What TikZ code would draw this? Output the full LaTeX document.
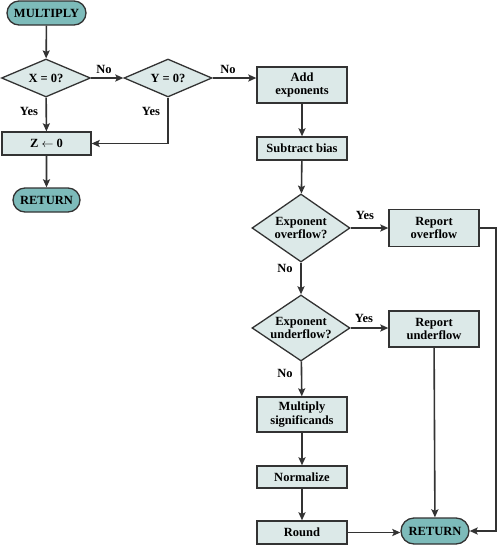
\documentclass[tikz,border=0pt]{standalone}
\usepackage{fontspec}
\setmainfont{Liberation Serif}
\usetikzlibrary{arrows.meta,shapes.geometric,shapes.misc}
\definecolor{boxfill}{HTML}{DCE9E8}
\definecolor{termfill}{HTML}{7DBBBA}
\definecolor{edge}{HTML}{333333}
\tikzset{
  base/.style={draw=edge, line width=1.3pt, font=\bfseries\fontsize{12.5}{13.5}\selectfont, align=center, inner sep=0pt},
  procbox/.style={base, rectangle, fill=boxfill},
  decis/.style={base, diamond, fill=boxfill},
  term/.style={base, rounded rectangle, fill=termfill},
  lbl/.style={font=\bfseries\fontsize{12.5}{13.5}\selectfont, inner sep=0pt},
  flow/.style={draw=edge, line width=1.6pt, -{Stealth[length=8pt,width=7pt,inset=1.5pt]}},
}
\begin{document}
\begin{tikzpicture}[x=1pt,y=-1pt]
\useasboundingbox (0,0) rectangle (500,558);
% left column
\node[term, minimum width=79, minimum height=24] (mult) at (46.5,13) {MULTIPLY};
\node[decis, aspect=2.3, minimum width=89, minimum height=38] (xz) at (46,78) {X = 0?};
\node[decis, aspect=2.3, minimum width=88, minimum height=38] (yz) at (168,78) {Y = 0?};
\node[procbox, minimum width=89, minimum height=23] (z0) at (46.5,143.5) {Z $\leftarrow$ 0};
\node[term, minimum width=67, minimum height=24] (ret1) at (46.5,200) {RETURN};
% right column
\node[procbox, minimum width=90, minimum height=36] (add) at (302,85) {Add\\exponents};
\node[procbox, minimum width=90, minimum height=23] (sub) at (302,148.5) {Subtract bias};
\node[decis, aspect=1.45, minimum width=98, minimum height=68] (ovf) at (301,228) {Exponent\\overflow?};
\node[procbox, minimum width=90, minimum height=37] (rovf) at (434,228) {Report\\overflow};
\node[decis, aspect=1.45, minimum width=98, minimum height=66] (unf) at (301,328) {Exponent\\underflow?};
\node[procbox, minimum width=90, minimum height=36] (runf) at (434,329) {Report\\underflow};
\node[procbox, minimum width=90, minimum height=35] (msig) at (302,414.5) {Multiply\\significands};
\node[procbox, minimum width=90, minimum height=22] (norm) at (302,477) {Normalize};
\node[procbox, minimum width=90, minimum height=23] (rnd) at (302,532.5) {Round};
\node[term, minimum width=68, minimum height=26] (ret2) at (435,531) {RETURN};
\coordinate (corner1) at (168,143.5);
\coordinate (corner2) at (496,228);
\coordinate (corner3) at (496,531);
% connectors
\draw[flow] (mult) -- (xz);
\draw[flow] (xz) -- (yz);
\draw[flow] (yz) -- (add.west |- yz);
\draw[flow] (xz) -- (z0);
\draw[flow] (yz.south) -- (corner1) -- (z0.east);
\draw[flow] (z0) -- (ret1);
\draw[flow] (add) -- (sub);
\draw[flow] (sub) -- (ovf);
\draw[flow] (ovf) -- (rovf);
\draw[flow] (ovf) -- (unf);
\draw[flow] (unf) -- (runf.west |- unf);
\draw[flow] (unf) -- (msig);
\draw[flow] (msig) -- (norm);
\draw[flow] (norm) -- (rnd);
\draw[flow] (rnd) -- (ret2.west |- rnd);
\draw[flow] (runf) -- (ret2);
\draw[flow] (rovf.east) -- (corner2) -- (corner3) -- (ret2.east);
% labels
\node[lbl] (l1) at (104,69) {No};
\node[lbl] (l2) at (228,69) {No};
\node[lbl] (l3) at (29,111) {Yes};
\node[lbl] (l4) at (151,111) {Yes};
\node[lbl] (l5) at (365,215) {Yes};
\node[lbl] (l6) at (285,268.5) {No};
\node[lbl] (l7) at (364,318) {Yes};
\node[lbl] (l8) at (285,373) {No};
\end{tikzpicture}
\end{document}
